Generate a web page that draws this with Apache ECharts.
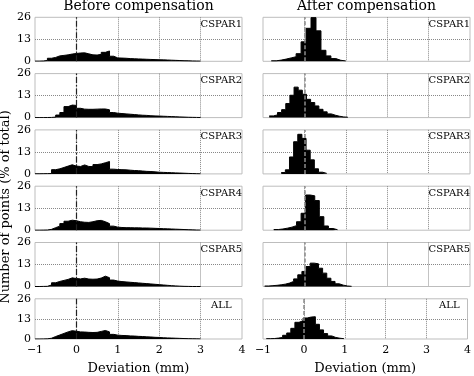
<!DOCTYPE html>
<html>
<head>
<meta charset="utf-8">
<script src="https://cdn.jsdelivr.net/npm/echarts@6/dist/echarts.min.js"></script>
<style>
  html, body { margin: 0; padding: 0; background: #fff; }
  #chart { width: 474px; height: 376px; }
</style>
</head>
<body>
<div id="chart"></div>
<script>
const panelNames = ['CSPAR1', 'CSPAR2', 'CSPAR3', 'CSPAR4', 'CSPAR5', 'ALL']
const columnTitles = ['Before compensation', 'After compensation']
const xTicks = [-1, 0, 1, 2, 3, 4]
const yTicks = [0, 13, 26]

// before compensation: bins of 0.1 mm starting at -1.0 mm
const beforeStart = -1.0
const beforeWidth = 0.1
const before1 = [0.1, 0.2, 0.5, 1.8, 2.3, 3.2, 3.5, 3.8, 4.3, 4.6, 4.9, 5.0, 4.4, 3.8, 3.7, 4.1, 5.3, 6.1, 3.0, 2.0,
  1.9, 1.8, 1.6, 1.5, 1.4, 1.3, 1.2, 1.1, 1.0, 0.9, 0.85, 0.75, 0.65, 0.55, 0.45, 0.35, 0.3, 0.2, 0.15, 0.1]
const before2 = [0, 0, 0.05, 0.1, 0.3, 1.5, 3.0, 6.5, 7.4, 7.2, 5.5, 5.0, 4.9, 4.9, 5.0, 5.1, 5.1, 4.6, 3.0, 2.6,
  2.4, 2.2, 2.0, 1.8, 1.6, 1.4, 1.3, 1.1, 1.0, 0.9, 0.8, 0.7, 0.6, 0.5, 0.4, 0.3, 0.2, 0.15, 0.1, 0.05]
const before3 = [0.05, 0.1, 0.15, 0.2, 2.5, 3.0, 3.8, 4.6, 5.4, 4.6, 4.4, 5.3, 4.4, 4.3, 5.5, 5.9, 6.6, 7.3, 2.8, 2.6,
  2.5, 2.4, 2.2, 2.0, 1.9, 1.7, 1.5, 1.4, 1.2, 1.0, 0.9, 0.8, 0.7, 0.6, 0.5, 0.4, 0.3, 0.2, 0.1, 0.05]
const before4 = [0, 0.05, 0.1, 0.5, 1.5, 2.4, 3.9, 5.3, 5.9, 5.6, 5.0, 4.7, 4.6, 5.0, 5.6, 5.8, 5.0, 3.9, 2.4, 1.8,
  1.6, 1.5, 1.5, 1.4, 1.4, 1.3, 1.3, 1.2, 1.1, 1.0, 0.9, 0.8, 0.7, 0.6, 0.5, 0.4, 0.3, 0.2, 0.1, 0.05]
const before5 = [0, 0.05, 0.1, 0.9, 2.2, 3.0, 3.6, 4.2, 5.1, 4.7, 4.5, 4.9, 4.4, 4.3, 4.4, 5.0, 6.1, 5.2, 3.8, 3.2,
  2.9, 2.7, 2.5, 2.3, 2.1, 1.9, 1.7, 1.5, 1.3, 1.1, 0.9, 0.7, 0.5, 0.35, 0.2, 0.1, 0.05, 0, 0, 0]
const before6 = [0, 0.05, 0.1, 0.5, 1.6, 2.6, 3.6, 4.6, 5.4, 5.0, 4.6, 4.5, 4.3, 4.2, 4.3, 4.9, 5.5, 4.6, 3.0, 2.5,
  2.3, 2.2, 2.0, 1.9, 1.7, 1.6, 1.4, 1.3, 1.1, 1.0, 0.8, 0.7, 0.6, 0.5, 0.4, 0.3, 0.2, 0.15, 0.1, 0.05]

// after compensation: each histogram has its own bin start / width (mm)
const afterStart = [-0.80, -0.85, -0.56, -0.74, -0.96, -0.92]
const afterWidth = [0.12, 0.1, 0.1, 0.11, 0.1, 0.1]
const after1 = [0.3, 0.7, 1.3, 2.0, 2.7, 4.5, 11.5, 19.5, 25.8, 18, 6.5, 3.2, 1.6, 0.6, 0.2]
const after2 = [1.0, 1.6, 3.0, 4.7, 8.3, 13.2, 18, 16.2, 13.8, 10.8, 8.9, 6.9, 4.9, 3.4, 2.2, 1.4, 0.8, 0.4, 0.2]
const after3 = [0.8, 2.4, 10, 19, 23.4, 21, 14, 8.3, 3, 1, 0.3]
const after4 = [0.4, 0.7, 1.2, 1.8, 2.7, 5, 10, 20.8, 20.3, 17.5, 8, 2.5, 1, 0.3]
const after5 = [0.3, 0.5, 0.7, 1.0, 1.4, 2.0, 3.0, 4.5, 6.9, 8.9, 11.8, 13.8, 13.4, 10.8, 7.9, 4.9, 3.0, 1.6, 0.8, 0.3, 0.1]
const after6 = [0.2, 0.3, 0.6, 1.0, 2.4, 3.9, 6.9, 10.8, 11.8, 13.6, 14.2, 14.4, 9.5, 5.9, 3.5, 2.0, 1.0, 0.5, 0.2]

const beforeData = [before1, before2, before3, before4, before5, before6]
const afterData = [after1, after2, after3, after4, after5, after6]

const FONT = 'DejaVu Serif'

// turn bin heights into step points (left edge, height) + closing edge
function steps(start, width, heights) {
  const pts = heights.map((h, i) => [+(start + i * width).toFixed(3), h])
  pts.push([+(start + heights.length * width).toFixed(3), 0])
  return pts
}

const colLeft = [35, 263]
const plotW = 207
const plotH = 44
const rowTop = i => 17.3 + i * 56.3

const grid = []
const xAxis = []
const yAxis = []
const series = []
const graphic = []

for (let c = 0; c < 2; c++) {
  for (let r = 0; r < 6; r++) {
    const k = grid.length
    const bottomRow = r === 5
    grid.push({
      left: colLeft[c], top: rowTop(r), width: plotW, height: plotH,
      show: true, borderColor: '#bdbdbd', borderWidth: 1, backgroundColor: 'transparent'
    })
    xAxis.push({
      type: 'value', gridIndex: k, min: xTicks[0], max: xTicks[xTicks.length - 1], interval: 1,
      axisLine: { show: false },
      axisTick: { show: false },
      axisLabel: {
        show: bottomRow, color: '#000', fontFamily: FONT, fontSize: 11, margin: 6,
        formatter: v => String(v).replace('-', '\u2212')
      },
      splitLine: {
        show: true, showMinLine: false, showMaxLine: false,
        lineStyle: { type: 'dotted', color: '#888', width: 1 }
      },
      name: bottomRow ? 'Deviation (mm)' : '',
      nameLocation: 'middle', nameGap: 23,
      nameTextStyle: { color: '#000', fontFamily: FONT, fontSize: 13 }
    })
    yAxis.push({
      type: 'value', gridIndex: k, min: yTicks[0], max: yTicks[yTicks.length - 1], interval: 13,
      axisLine: { show: false },
      axisTick: { show: false },
      axisLabel: { show: c === 0, color: '#000', fontFamily: FONT, fontSize: 11, margin: 4 },
      splitLine: {
        show: true, showMinLine: false, showMaxLine: false,
        lineStyle: { type: 'dotted', color: '#888', width: 1 }
      }
    })
    const data = c === 0
      ? steps(beforeStart, beforeWidth, beforeData[r])
      : steps(afterStart[r], afterWidth[r], afterData[r])
    series.push({
      type: 'line', xAxisIndex: k, yAxisIndex: k, data: data,
      step: 'end', symbol: 'none', silent: true,
      lineStyle: { color: '#000', width: 1 },
      areaStyle: { color: '#000', opacity: 1 },
      markLine: {
        symbol: 'none', silent: true, label: { show: false },
        lineStyle: c === 0
          ? { color: '#222', type: [6, 2, 1.5, 2], width: 1.2 }
          : { color: '#8a8a8a', type: [4, 2], width: 1.5 },
        data: [{ xAxis: 0 }]
      }
    })
    graphic.push({
      type: 'text', x: colLeft[c] + plotW * 0.9, y: rowTop(r) + 7,
      style: { text: panelNames[r], font: '10px "DejaVu Serif"', fill: '#000', align: 'center', verticalAlign: 'middle' }
    })
  }
  graphic.push({
    type: 'text', x: colLeft[c] + plotW / 2, y: 6,
    style: { text: columnTitles[c], font: '14px "DejaVu Serif"', fill: '#000', align: 'center', verticalAlign: 'middle' }
  })
}

graphic.push({
  type: 'text', x: 6, y: 207, rotation: Math.PI / 2,
  style: { text: 'Number of points (% of total)', font: '13px "DejaVu Serif"', fill: '#000', align: 'center', verticalAlign: 'middle' }
})

const chart = echarts.init(document.getElementById('chart'))
chart.setOption({
  animation: false,
  backgroundColor: '#fff',
  grid, xAxis, yAxis, series, graphic
})
</script>
</body>
</html>
